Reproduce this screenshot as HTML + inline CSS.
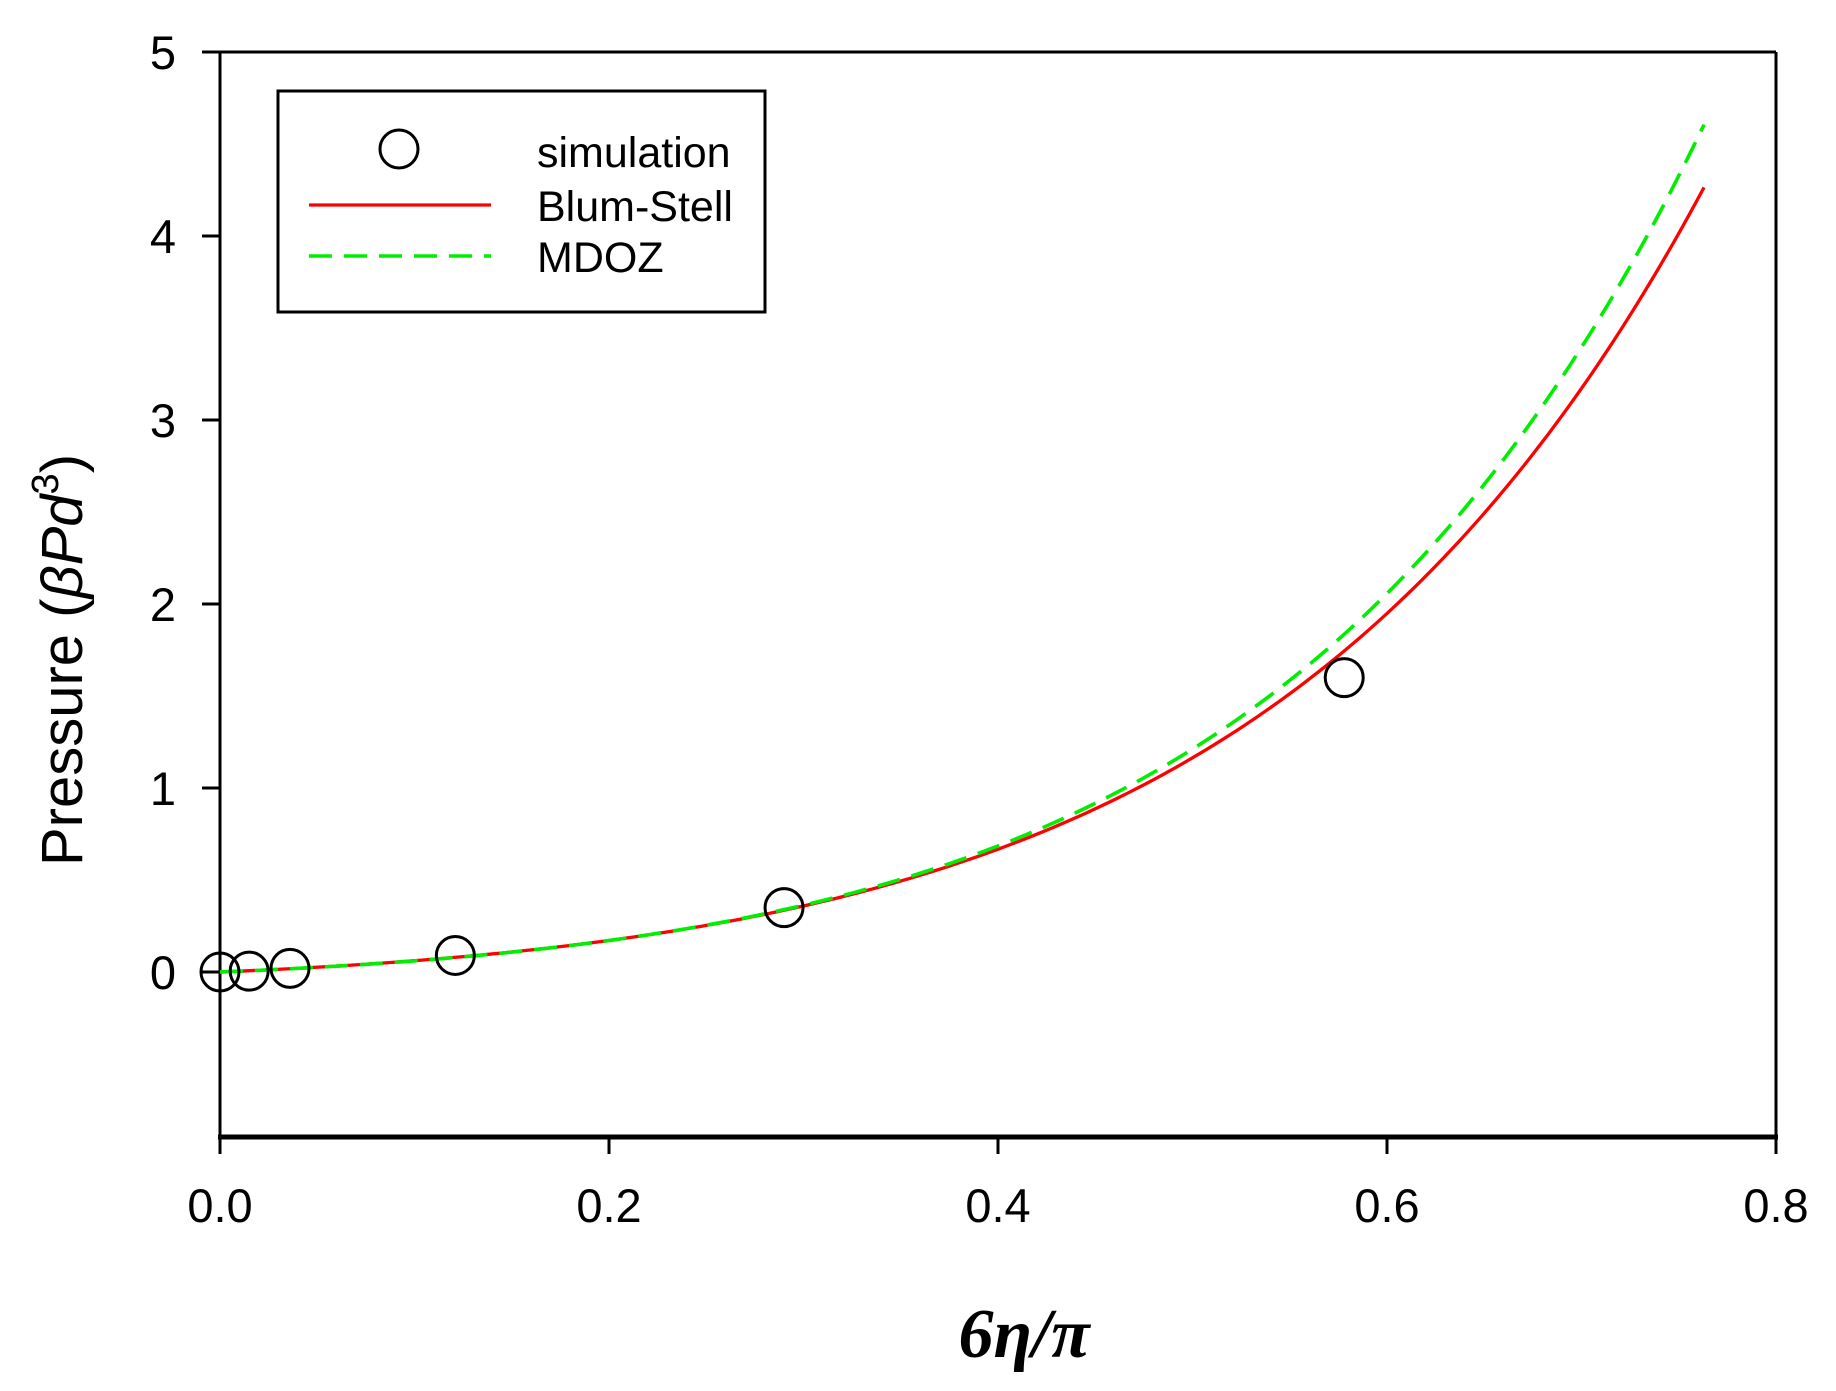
<!DOCTYPE html>
<html><head><meta charset="utf-8"><style>
html,body{margin:0;padding:0;background:#fff;}
svg{display:block;}
text{font-family:"Liberation Sans",sans-serif;fill:#000;}
</style></head><body>
<svg id="s" width="1836" height="1391" viewBox="0 0 1836 1391" xmlns="http://www.w3.org/2000/svg">
<rect width="1836" height="1391" fill="#fff"/>
<g stroke="#000" stroke-width="3" fill="none">
<line x1="220" y1="52" x2="1776" y2="52"/>
<line x1="220" y1="52" x2="220" y2="1138"/>
<line x1="1776" y1="52" x2="1776" y2="1138"/>
<line x1="218" y1="1137" x2="1778" y2="1137" stroke-width="5"/>
<line x1="202" y1="52" x2="220" y2="52"/>
<line x1="202" y1="236" x2="220" y2="236"/>
<line x1="202" y1="420" x2="220" y2="420"/>
<line x1="202" y1="604" x2="220" y2="604"/>
<line x1="202" y1="788" x2="220" y2="788"/>
<line x1="202" y1="972" x2="220" y2="972"/>
<line x1="220" y1="1137" x2="220" y2="1154"/>
<line x1="609" y1="1137" x2="609" y2="1154"/>
<line x1="998" y1="1137" x2="998" y2="1154"/>
<line x1="1387" y1="1137" x2="1387" y2="1154"/>
<line x1="1776" y1="1137" x2="1776" y2="1154"/>
</g>
<g font-size="47" text-anchor="end">
<text x="176" y="69">5</text>
<text x="176" y="253">4</text>
<text x="176" y="437">3</text>
<text x="176" y="621">2</text>
<text x="176" y="805">1</text>
<text x="176" y="989">0</text>
</g>
<g font-size="47" text-anchor="middle">
<text x="220" y="1222">0.0</text>
<text x="609" y="1222">0.2</text>
<text x="998" y="1222">0.4</text>
<text x="1387" y="1222">0.6</text>
<text x="1776" y="1222">0.8</text>
</g>
<text x="1024" y="1357" text-anchor="middle" font-size="70" font-weight="bold" font-style="italic" style="font-family:'Liberation Serif',serif">6η/π</text>
<text transform="translate(82,660) rotate(-90)" text-anchor="middle" font-size="58">Pressure (<tspan font-style="italic">βPd</tspan><tspan font-size="38" dy="-24">3</tspan><tspan dy="24">)</tspan></text>
<path id="red" fill="none" stroke="#ff0000" stroke-width="3.3"/>
<path id="green" fill="none" stroke="#00ee00" stroke-width="3.6" stroke-dasharray="23 12"/>
<g id="pts" fill="none" stroke="#000" stroke-width="3"></g>
<rect x="278" y="91" width="487" height="221" fill="#fff" stroke="#000" stroke-width="3"/>
<circle cx="399" cy="149" r="19" fill="none" stroke="#000" stroke-width="3"/>
<line x1="309" y1="205" x2="491" y2="205" stroke="#ff0000" stroke-width="3.3"/>
<line x1="309" y1="256" x2="491" y2="256" stroke="#00ee00" stroke-width="3.6" stroke-dasharray="23 12"/>
<g font-size="43">
<text x="537" y="167">simulation</text>
<text x="537" y="221">Blum-Stell</text>
<text x="537" y="272">MDOZ</text>
</g>
</svg>
<script>
function X(x){return 220+x*1945;}
function Y(p){return 972-p*184;}
function curve(a,b){
 var s="";
 for(var i=0;i<=200;i++){var x=0.763*i/200;var p=x*Math.exp(a+b*x);
  s+=(i?" L":"M")+X(x).toFixed(2)+","+Y(p).toFixed(2);}
 return s;
}
document.getElementById("red").setAttribute("d",curve(-0.82,3.33));
document.getElementById("green").setAttribute("d",curve(-0.85,3.47));
var g=document.getElementById("pts");
[[0,0],[0.015,0.005],[0.036,0.02],[0.121,0.09],[0.29,0.35],[0.578,1.6]].forEach(function(a){
 var c=document.createElementNS("http://www.w3.org/2000/svg","circle");
 c.setAttribute("cx",X(a[0]));c.setAttribute("cy",Y(a[1]));c.setAttribute("r",19);g.appendChild(c);
});
</script>
</body></html>
